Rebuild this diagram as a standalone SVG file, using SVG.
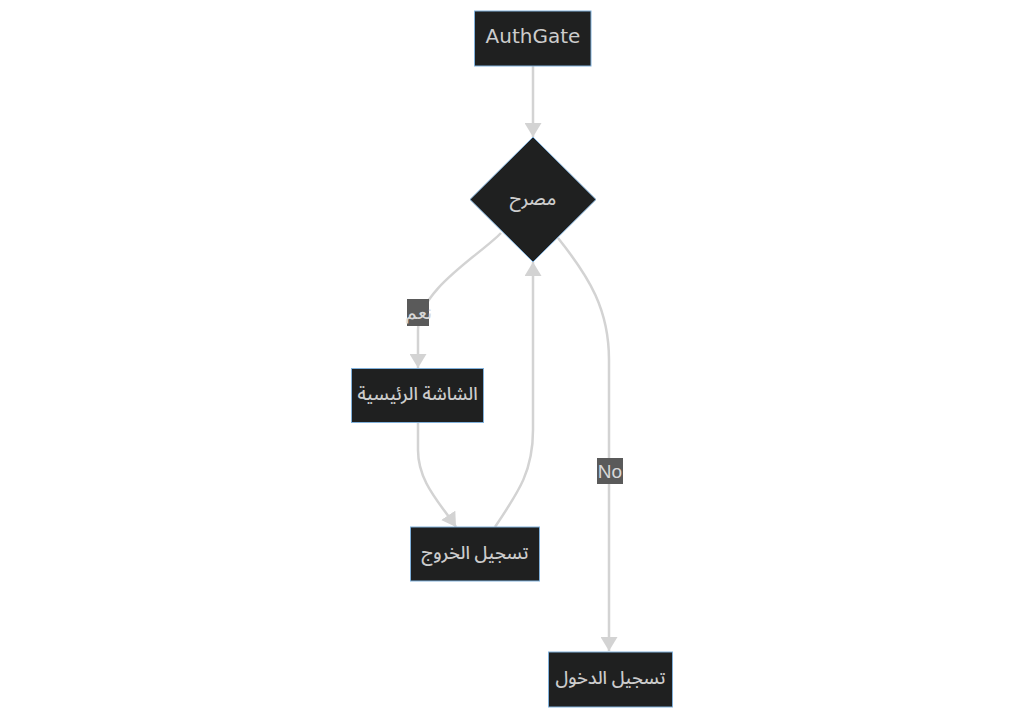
<svg xmlns="http://www.w3.org/2000/svg" width="1024" height="718" viewBox="0 0 1024 718">
<style>
.node rect,.node polygon{fill:#1f2020;stroke:#81B1DB;stroke-width:1}
.lat{font-family:"DejaVu Sans",Verdana,sans-serif;font-size:20px;fill:#cccccc}
.ar{font-family:"Noto Sans Arabic","Liberation Sans",sans-serif;font-size:18px;font-weight:500;fill:#cccccc}
.edge{fill:none;stroke:#d3d3d3;stroke-width:2.5}
.elbg{fill:#5a5a5a}
.elt{font-family:"Liberation Sans",Arial,sans-serif;font-size:19px;fill:#d8d8d8}
</style>
<defs>
<marker id="arr" viewBox="0 0 10 10" refX="10" refY="5" markerUnits="userSpaceOnUse" markerWidth="14" markerHeight="17" orient="auto" preserveAspectRatio="none">
<path d="M0,0 L10,5 L0,10 z" fill="#d3d3d3"/>
</marker>
</defs>
<rect width="1024" height="718" fill="#ffffff"/>
<g id="connectors">
<path class="edge" d="M533,66 L533,137" marker-end="url(#arr)"/>
<path class="edge" d="M501,233 C480,255 418,290 418,330 L418,368" marker-end="url(#arr)"/>
<path class="edge" d="M418,423 L418,450 C418,482 440,503 456,527" marker-end="url(#arr)"/>
<path class="edge" d="M495,527 C520,490 533,470 533,430 L533,262" marker-end="url(#arr)"/>
<path class="edge" d="M558,238 C590,278 609,310 609,360 L609,651" marker-end="url(#arr)"/>
<g id="label-yes">
<rect class="elbg" x="407" y="299" width="22" height="27"/>
<text class="elt" x="418" y="319" text-anchor="middle" font-family="Noto Sans Arabic, sans-serif" font-size="16" font-weight="500">نعم</text>
</g>
<g id="label-no">
<rect class="elbg" x="597" y="458" width="26" height="26"/>
<text class="elt" x="610" y="478" text-anchor="middle">No</text>
</g>
</g>
<g id="AuthGate" class="node">
<rect x="474.5" y="11" width="116.5" height="55"/>
<text class="lat" x="533" y="43" text-anchor="middle">AuthGate</text>
</g>
<g id="Decision" class="node">
<polygon points="533,137 596,199.5 533,262 470,199.5"/>
<text class="ar" x="533" y="205" text-anchor="middle" direction="rtl">مصرح</text>
</g>
<g id="MainScreen" class="node">
<rect x="351.5" y="368.5" width="132" height="54"/>
<text class="ar" x="417.5" y="400" text-anchor="middle" direction="rtl">الشاشة الرئيسية</text>
</g>
<g id="Logout" class="node">
<rect x="410.5" y="527" width="129" height="54"/>
<text class="ar" x="475" y="559" text-anchor="middle" direction="rtl">تسجيل الخروج</text>
</g>
<g id="Login" class="node">
<rect x="548.5" y="652" width="124" height="55"/>
<text class="ar" x="610.5" y="684" text-anchor="middle" direction="rtl">تسجيل الدخول</text>
</g>
</svg>
